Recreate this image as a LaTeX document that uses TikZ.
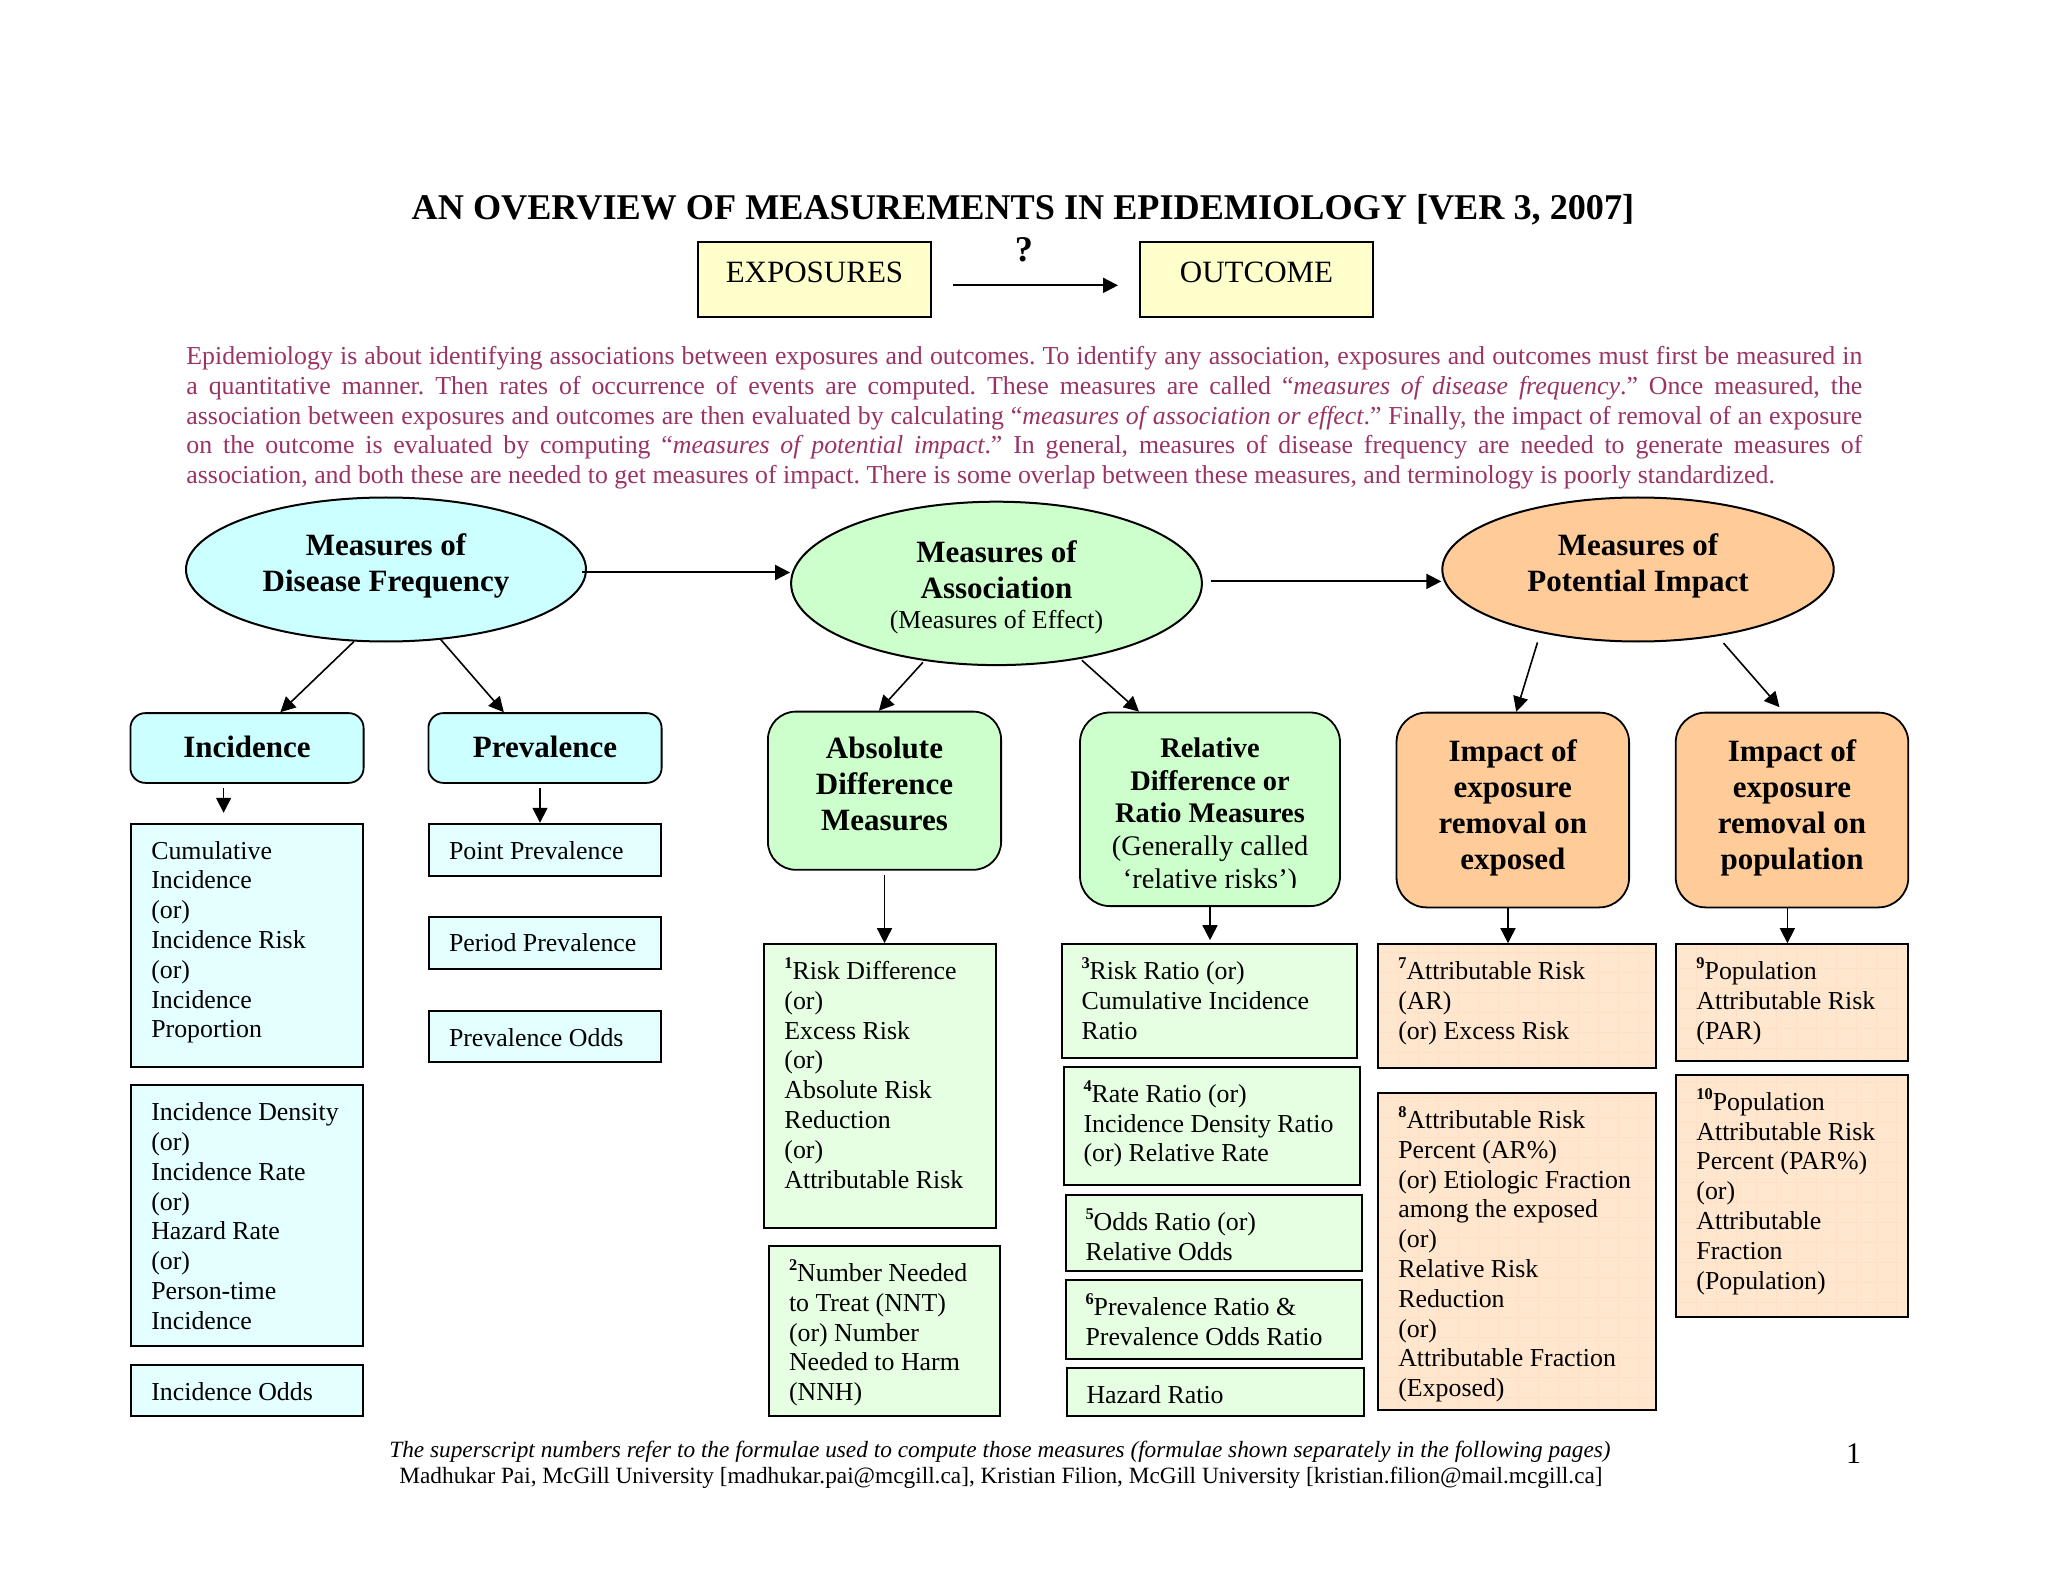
\documentclass[tikz,border=0pt]{standalone}
\usepackage{fontspec}
\setmainfont{Liberation Serif}
\usetikzlibrary{shapes.geometric,arrows.meta}
\definecolor{cyanhead}{HTML}{CCFFFF}
\definecolor{cyanbox}{HTML}{E3FFFF}
\definecolor{greenhead}{HTML}{CCFFCC}
\definecolor{greenbox}{HTML}{E6FFE3}
\definecolor{orangehead}{HTML}{FFCC99}
\definecolor{orangebox}{HTML}{FFE6CE}
\definecolor{orangegrid}{HTML}{FFE0C4}
\definecolor{yellowbox}{HTML}{FFFFCC}
\definecolor{plum}{HTML}{993366}
\newcommand{\boxtext}[3]{\parbox[c][\dimexpr#2pt/2\relax][t]{\dimexpr#1pt/2-20pt\relax}{\rule{0pt}{17.6pt}#3}}
\newcommand{\hd}[1]{\raisebox{.42em}{\fontsize{8.2}{8}\selectfont\bfseries #1}}
\newcommand{\drop}[1]{\rule[-#1]{0pt}{#1}}
\frenchspacing
\tikzset{
  bodyfont/.style={font=\fontsize{12.93}{14.9}\selectfont},
  headfont/.style={font=\fontsize{15.5}{18}\selectfont\bfseries},
  topbox/.style={draw,line width=1pt,fill=yellowbox,inner sep=0pt,minimum width=116.5pt,
    text height=20.3pt,text depth=17.4pt,font=\fontsize{15.5}{18}\selectfont},
  blob/.style={ellipse,draw,line width=1pt,inner sep=0pt,align=center,headfont},
  headbox/.style={draw,line width=.9pt,rounded corners=7.5pt,inner sep=0pt,align=center,headfont},
  listbox/.style={draw,line width=1pt,anchor=north west,inner xsep=10pt,inner ysep=0pt,bodyfont},
  orangelist/.style={listbox,fill=orangebox,path picture={\draw[orangegrid,line width=.4pt,step=10pt]
    (path picture bounding box.south west) grid (path picture bounding box.north east);}},
  arr/.style={-{Triangle[length=7.5pt,width=7.5pt]},line width=.8pt},
  bigarr/.style={-{Triangle[length=7.5pt,width=7.5pt]},line width=1pt},
}
\begin{document}
\begin{tikzpicture}[x=0.5pt,y=-0.5pt]
\useasboundingbox (0,0) rectangle (2048,1582);
% top row
\node[anchor=base,inner sep=0pt,font=\fontsize{18.1}{20}\selectfont\bfseries] (title) at (1023,220)
  {AN OVERVIEW OF MEASUREMENTS IN EPIDEMIOLOGY [VER 3, 2007]};
\node[topbox] (expo) at (814.5,279.35) {EXPOSURES};
\node[topbox] (outc) at (1256.5,279.35) {OUTCOME};
\node[anchor=base,inner sep=0pt,font=\fontsize{18.1}{20}\selectfont\bfseries] (qmark) at (1024,262) {?};
\draw[bigarr,shorten <=10.5pt,shorten >=10.5pt] ([yshift=-3pt]expo.east) -- ([yshift=-3pt]outc.west);
% paragraph
\node[anchor=north west,inner sep=0pt,text width=838pt,align=justify,text=plum,
  font=\fontsize{12.93}{14.87}\selectfont] (intro) at (186,346) {%
Epidemiology is about identifying associations between exposures and outcomes. To identify any association, exposures and outcomes must first be measured in\linebreak
a quantitative manner. Then rates of occurrence of events are computed. These measures are called “\textit{measures of disease frequency}.” Once measured, the\linebreak
association between exposures and outcomes are then evaluated by calculating “\textit{measures of association or effect}.” Finally, the impact of removal of an exposure\linebreak
on the outcome is evaluated by computing “\textit{measures of potential impact}.” In general, measures of disease frequency are needed to generate measures of\linebreak
association, and both these are needed to get measures of impact. There is some overlap between these measures, and terminology is poorly standardized.};
% ellipses
\node[blob,fill=cyanhead,minimum width=200pt,minimum height=72pt] (freq) at (386,569.5)
  {Measures of\\Disease Frequency\drop{7pt}};
\node[blob,fill=greenhead,minimum width=205.4pt,minimum height=81.7pt] (assoc) at (996.5,583.4)
  {\rule{0pt}{15pt}Measures of\\Association\\[-3pt]{\fontsize{12.93}{15}\selectfont\mdseries (Measures of Effect)}};
\node[blob,fill=orangehead,minimum width=195.7pt,minimum height=72pt] (impact) at (1638,569.5)
  {Measures of\\Potential Impact\drop{7pt}};
\draw[bigarr,shorten <=-2.5pt] ([yshift=-1.5pt]freq.east) -- ([yshift=-1.5pt]freq.east -| assoc.west);
\draw[bigarr,shorten <=4pt] ([yshift=1pt]assoc.east) -- ([yshift=1pt]assoc.east -| impact.west);
% column heads
\node[headbox,fill=cyanhead,minimum width=116.6pt,text height=22.15pt,text depth=12.75pt] (inc) at (247,748) {Incidence};
\node[headbox,fill=cyanhead,minimum width=116.6pt,text height=22.15pt,text depth=12.75pt] (prev) at (545,748) {Prevalence};
\node[headbox,fill=greenhead,rounded corners=14pt,minimum width=116.6pt,minimum height=79.1pt] (absd) at (884.5,790.7)
  {Absolute\\Difference\\Measures\drop{7pt}};
\node[headbox,fill=greenhead,rounded corners=15pt,inner sep=0pt,anchor=north,font=\fontsize{14.2}{16.35}\selectfont\bfseries] (relr) at (1210,711.6)
  {\parbox[c][96.8pt][t]{130pt}{\centering\rule{0pt}{22.5pt}Relative\\Difference or\\Ratio Measures\\
  {\mdseries (Generally called}}};
\begin{scope}
\clip (1080,860) rectangle (1340,887);
\node[anchor=base,inner sep=0pt,font=\fontsize{14.2}{16.35}\selectfont] (relrisk) at (1210,888) {‘relative risks’)};
\end{scope}
\node[headbox,fill=orangehead,rounded corners=15pt,minimum width=116.3pt,minimum height=97.4pt] (impexp) at (1512.8,810)
  {Impact of\\exposure\\removal on\\exposed\drop{5.8pt}};
\node[headbox,fill=orangehead,rounded corners=15pt,minimum width=116.3pt,minimum height=97.4pt] (imppop) at (1792,810)
  {Impact of\\exposure\\removal on\\population\drop{5.8pt}};
% lists, left to right
\node[listbox,fill=cyanbox] (cumul) at (130.3,822.8) {\boxtext{231.3}{243.3}{Cumulative\\Incidence\\(or)\\Incidence Risk\\(or)\\Incidence\\Proportion}};
\node[listbox,fill=cyanbox] (dens) at (130.3,1084.4) {\boxtext{231.3}{260.3}{Incidence Density\\(or)\\Incidence Rate\\(or)\\Hazard Rate\\(or)\\Person-time\\Incidence}};
\node[listbox,fill=cyanbox] (incodds) at (130.3,1364.4) {\boxtext{231.3}{51}{Incidence Odds}};
\node[listbox,fill=cyanbox] (point) at (428,822.8) {\boxtext{232}{52.4}{Point Prevalence}};
\node[listbox,fill=cyanbox] (period) at (428,915.7) {\boxtext{232}{52.3}{Period Prevalence}};
\node[listbox,fill=cyanbox] (prevodds) at (428,1009.9) {\boxtext{232}{51}{Prevalence Odds}};
\node[listbox,fill=greenbox] (riskd) at (763.4,943.2) {\boxtext{231.3}{283.8}{\hd{1}Risk Difference\\(or)\\Excess Risk\\(or)\\Absolute Risk\\Reduction\\(or)\\Attributable Risk}};
\node[listbox,fill=greenbox] (nnt) at (768,1245.3) {\boxtext{231}{170}{\hd{2}Number Needed\\to Treat (NNT)\\(or) Number\\Needed to Harm\\(NNH)}};
\node[listbox,fill=greenbox] (riskr) at (1060.5,943.2) {\boxtext{295.8}{113.8}{\hd{3}Risk Ratio (or)\\Cumulative Incidence\\Ratio}};
\node[listbox,fill=greenbox] (rater) at (1062.5,1066.1) {\boxtext{296}{117.8}{\hd{4}Rate Ratio (or)\\Incidence Density Ratio\\(or) Relative Rate}};
\node[listbox,fill=greenbox] (oddsr) at (1064.5,1194.3) {\boxtext{296.6}{75.9}{\hd{5}Odds Ratio (or)\\Relative Odds}};
\node[listbox,fill=greenbox] (prevr) at (1064.5,1279.3) {\boxtext{296.6}{78.5}{\hd{6}Prevalence Ratio \&\\Prevalence Odds Ratio}};
\node[listbox,fill=greenbox] (hazr) at (1065.5,1367) {\boxtext{297.5}{48.4}{Hazard Ratio}};
\node[orangelist] (ar) at (1377.3,943.2) {\boxtext{277.9}{124.2}{\hd{7}Attributable Risk\\(AR)\\(or) Excess Risk}};
\node[orangelist] (arp) at (1377.3,1092.3) {\boxtext{277.9}{316.5}{\hd{8}Attributable Risk\\Percent (AR\%)\\(or) Etiologic Fraction\\among the exposed\\(or)\\Relative Risk\\Reduction\\(or)\\Attributable Fraction\\(Exposed)}};
\node[orangelist] (par) at (1675.4,943.2) {\boxtext{231.6}{116.4}{\hd{9}Population\\Attributable Risk\\(PAR)}};
\node[orangelist] (parp) at (1675.4,1074) {\boxtext{231.6}{242}{\hd{10}Population\\Attributable Risk\\Percent (PAR\%)\\(or)\\Attributable\\Fraction\\(Population)}};
% arrows to heads
\draw[arr] (freq.-114) -- (inc.47);
\draw[arr] (freq.-52) -- (prev.139.5);
\draw[arr,shorten <=1pt] (assoc.-133) -- (absd.94);
\draw[arr,shorten <=1pt] (assoc.-42) -- (relr.126);
\draw[arr,shorten <=5pt] (impact.-147) -- (impexp.88);
\draw[arr,shorten <=4.5pt,shorten >=3pt] (impact.-40) -- (imppop.95);
% arrows to lists
\draw[arr,shorten <=2pt,shorten >=5pt] ([xshift=-11.7pt]inc.south) -- ([xshift=-11.7pt]inc.south |- cumul.north);
\draw[arr,shorten <=2pt] ([xshift=-2.5pt]prev.south) -- ([xshift=-2.5pt]prev.south |- point.north);
\draw[arr,shorten <=2pt] (absd.south) -- (absd.south |- riskd.north);
\draw[arr,shorten >=1.5pt] (relr.south) -- (relr.south |- riskr.north);
\draw[arr] ([xshift=-2.4pt]impexp.south) -- ([xshift=-2.4pt]impexp.south |- ar.north);
\draw[arr] ([xshift=-2.3pt]imppop.south) -- ([xshift=-2.3pt]imppop.south |- par.north);
% footer
\node[anchor=base,inner sep=0pt,font=\fontsize{11.65}{14}\selectfont\itshape] (note) at (1000,1457)
  {The superscript numbers refer to the formulae used to compute those measures (formulae shown separately in the following pages)};
\node[anchor=base,inner sep=0pt,font=\fontsize{11.65}{14}\selectfont] (names) at (1001,1483.6)
  {Madhukar Pai, McGill University [madhukar.pai@mcgill.ca], Kristian Filion, McGill University [kristian.filion@mail.mcgill.ca]};
\node[anchor=base,inner sep=0pt,font=\fontsize{15}{18}\selectfont] (pagenum) at (1853.5,1463.5) {1};
\end{tikzpicture}
\end{document}
